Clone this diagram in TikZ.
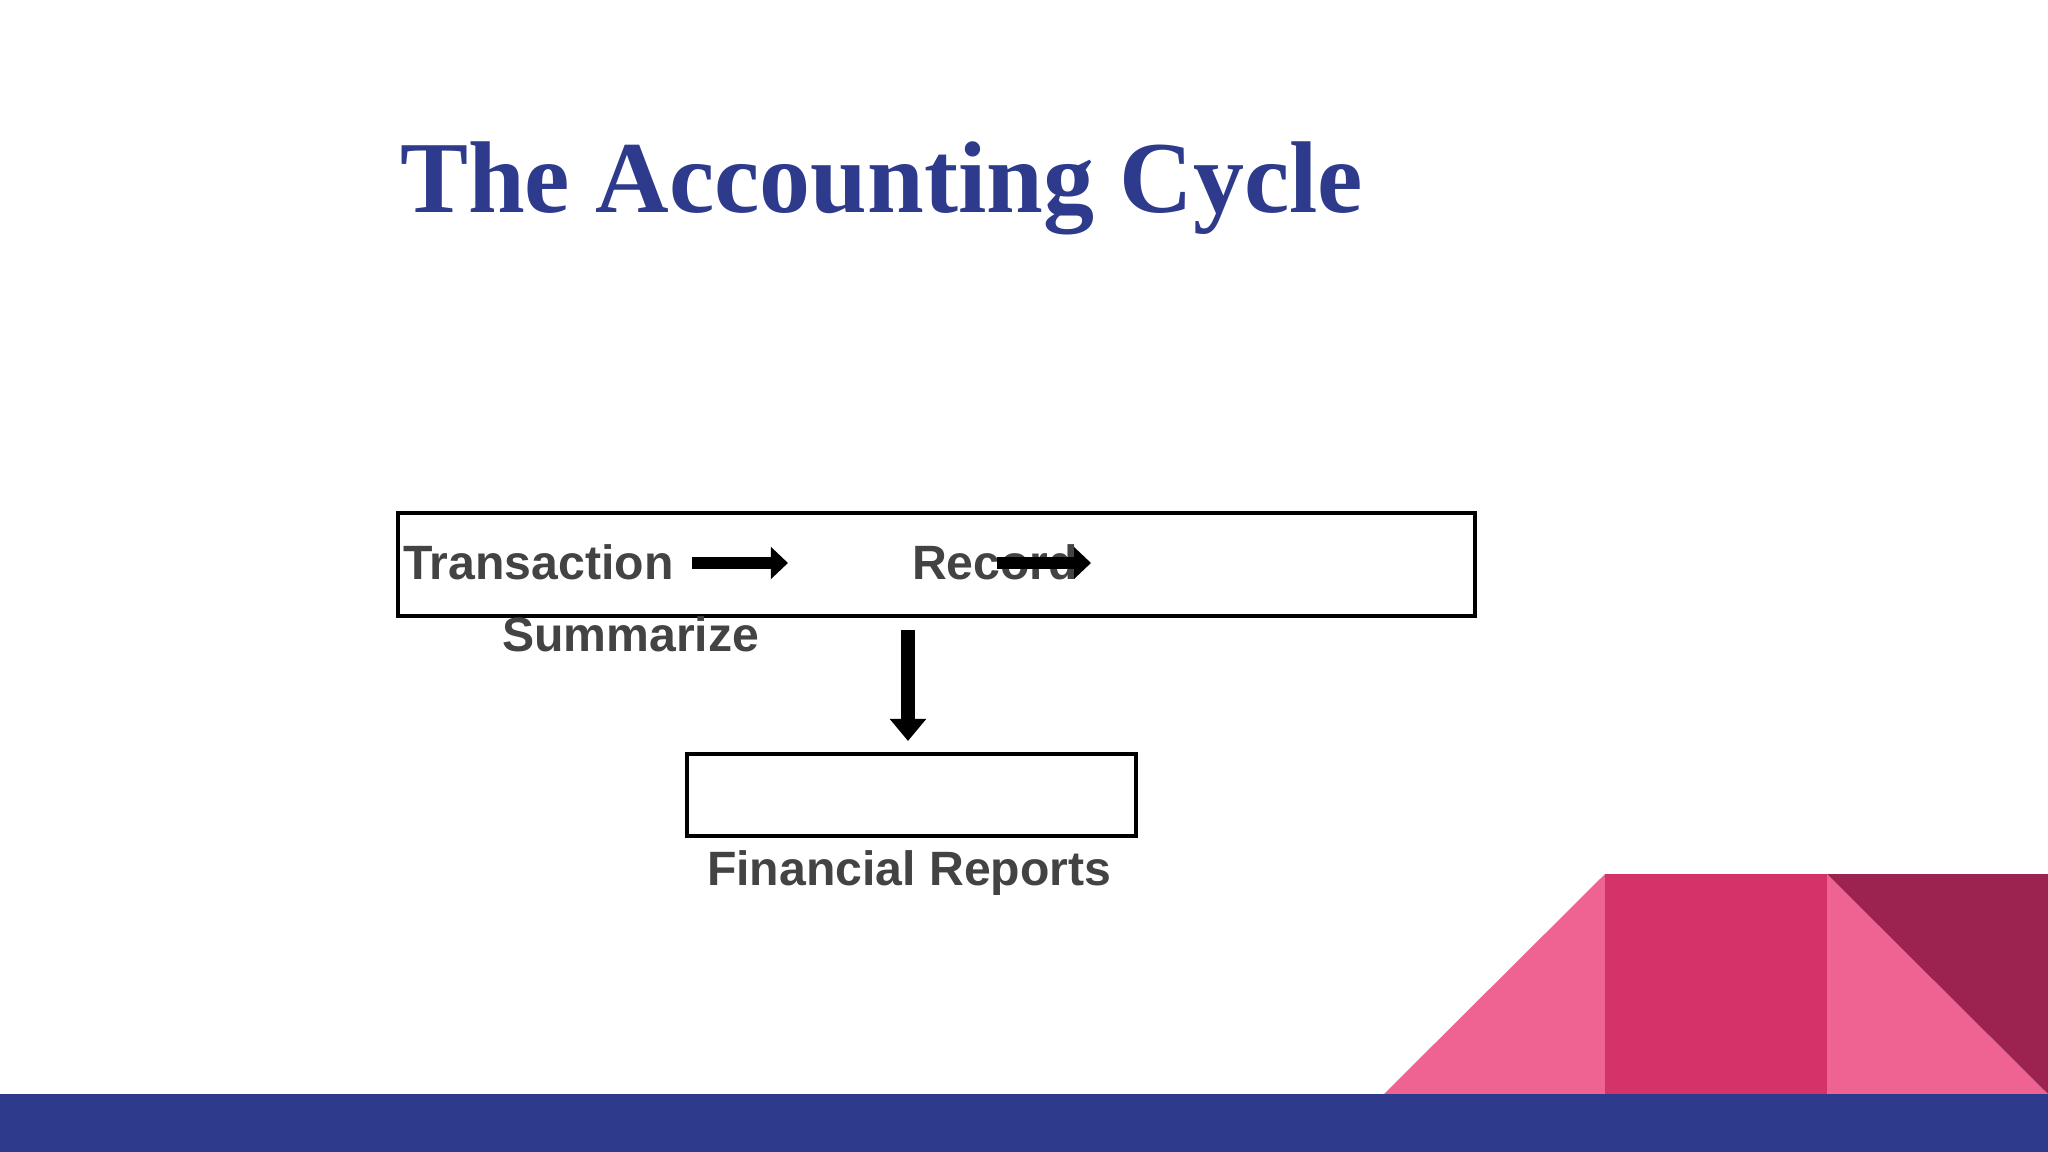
\documentclass[tikz,border=0pt]{standalone}
\usepackage{fontspec}
\setmainfont{Liberation Serif}
\newfontfamily\wordfont{Liberation Sans}
\usepackage{tikz}
\usetikzlibrary{arrows.meta,positioning}
\definecolor{titleblue}{HTML}{2E3A8C}
\definecolor{wordgray}{HTML}{434343}
\definecolor{lightpink}{HTML}{EF6393}
\definecolor{midpink}{HTML}{D4336A}
\definecolor{darkpink}{HTML}{9C2350}
\tikzstyle{word}=[font=\wordfont\bfseries\fontsize{13.7}{16}\selectfont,text=wordgray,inner sep=0pt,anchor=base west]
\tikzstyle{stagebox}=[draw,inner sep=0pt]
\tikzstyle{flatarrow}=[line width=0.12cm,-{Triangle[length=0.17cm,width=0.31cm]}]

\begin{document}
\begin{tikzpicture}[x=0.01cm,y=-0.01cm,very thick]
\useasboundingbox[fill=white] (0,0) rectangle (2048,1152);
% title
\node (title) [font=\bfseries\fontsize{29}{34}\selectfont,text=titleblue,inner sep=0pt,anchor=base west] at (398,213) {The Accounting Cycle};
% boxes
\node (top) [stagebox,minimum width=10.77cm,minimum height=1.03cm] at (936.5,564.5) {};
\node (report) [stagebox,minimum width=4.49cm,minimum height=0.82cm] at (911.5,795) {};
% words
\node (trans) [word] at (401,580) {Transaction};
\node (rec) [word] at (910,580) {Record};
\node (summ) [word] at (500,651) {Summarize};
\node (fin) [word] at (705,885) {Financial Reports};
% arrows
\coordinate (a1) at (692,563);
\coordinate (b1) at (788,563);
\coordinate (a2) at (997,563);
\coordinate (b2) at (1091,563);
\coordinate (a3) at (908,630);
\coordinate (b3) at (908,741);
\draw [flatarrow] (a1) -- (b1);
\draw [flatarrow] (a2) -- (b2);
\draw [line width=0.14cm,-{Triangle[length=0.22cm,width=0.35cm]}] (a3) -- (b3);
% corner shapes
\fill [lightpink] (1384,1094) -- (1605,874) -- (1605,1094) -- cycle;
\fill [midpink] (1605,874) rectangle (1827,1094);
\fill [lightpink] (1827,874) -- (2048,1094) -- (1827,1094) -- cycle;
\fill [darkpink] (1827,874) -- (2048,874) -- (2048,1094) -- cycle;
\fill [titleblue] (0,1094) rectangle (2048,1152);
\end{tikzpicture}
\end{document}
